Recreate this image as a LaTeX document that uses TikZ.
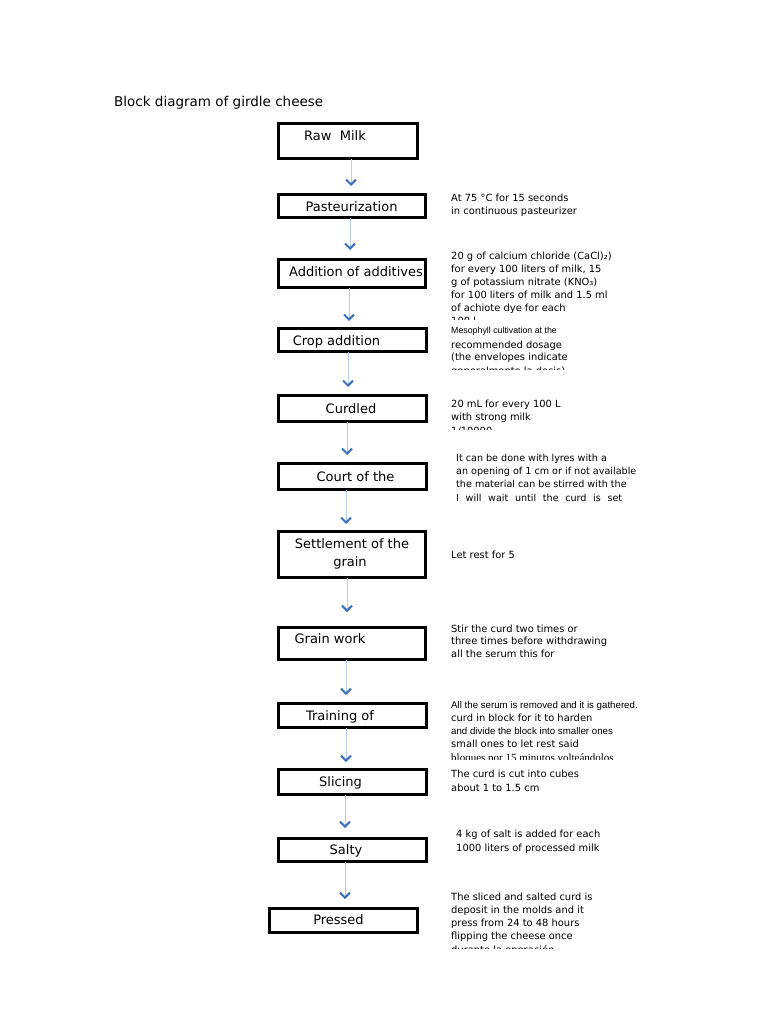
\documentclass[tikz,border=0pt]{standalone}
\usepackage{fontspec}
\setmainfont{DejaVu Sans}
\newfontfamily\arialf{Liberation Sans}
\newfontfamily\timesf{Liberation Serif}
\usetikzlibrary{arrows.meta}
\definecolor{tipblue}{RGB}{62,112,192}
\definecolor{lineblue}{RGB}{185,206,236}
\begin{document}
\begin{tikzpicture}[x=1pt,y=-1pt,
  box/.style={draw=black, line width=2.8pt, inner sep=0pt, outer sep=0pt},
  lbl/.style={anchor=mid, inner sep=0pt, yshift=-2.5pt, font=\fontsize{13}{15}\selectfont},
  note/.style={anchor=mid west, inner sep=0pt, yshift=-2pt, font=\fontsize{9.9}{12}\selectfont},
  widenote/.style={note, font=\fontsize{9.6}{12}\selectfont},
  smallnote/.style={anchor=mid west, inner sep=0pt, yshift=-2pt, font=\arialf\fontsize{9.7}{11}\selectfont},
  conn/.style={draw=lineblue, line width=0.6pt,
    -{Straight Barb[length=5pt, width=10pt, line width=2.1pt, color=tipblue]}}]
\fill[white] (0,0) rectangle (768,1024);
\useasboundingbox (0,0) rectangle (768,1024);

% title
\node[anchor=mid west, inner sep=0pt, yshift=-2.5pt, font=\fontsize{13.5}{16}\selectfont] (title) at (114,101) {Block diagram of girdle cheese};

% boxes
\node[box, minimum width=139.2, minimum height=35.2] (b1) at (348,141) {};
\node[box, minimum width=147.2, minimum height=23.2] (b2) at (352,206) {};
\node[box, minimum width=147.2, minimum height=28.2] (b3) at (352,273.5) {};
\node[box, minimum width=148.2, minimum height=23.2] (b4) at (352.5,340) {};
\node[box, minimum width=148.2, minimum height=26.2] (b5) at (352.5,408.5) {};
\node[box, minimum width=148.2, minimum height=26.2] (b6) at (352.5,476.5) {};
\node[box, minimum width=147.2, minimum height=46.2] (b7) at (352,554.5) {};
\node[box, minimum width=147.2, minimum height=32.2] (b8) at (352,643.5) {};
\node[box, minimum width=148.2, minimum height=24.2] (b9) at (352.5,715.5) {};
\node[box, minimum width=148.2, minimum height=25.2] (b10) at (352.5,782) {};
\node[box, minimum width=148.2, minimum height=23.2] (b11) at (352.5,850) {};
\node[box, minimum width=148.2, minimum height=24.2] (b12) at (343.5,920.5) {};

% labels
\node[lbl] (l1) at (335,135) {Raw\ \ Milk};
\node[lbl] (l2) at (351.5,206) {Pasteurization};
\node[lbl] (l3) at (356,271) {Addition of additives};
\node[lbl] (l4) at (336.5,340.5) {Crop addition};
\node[lbl] (l5) at (351,408) {Curdled};
\node[lbl] (l6) at (355.5,476) {Court of the};
\node[lbl] (l7a) at (352,543) {Settlement of the};
\node[lbl] (l7b) at (350,561.5) {grain};
\node[lbl] (l8) at (330,638.5) {Grain work};
\node[lbl] (l9) at (340,715) {Training of};
\node[lbl] (l10) at (340.5,781) {Slicing};
\node[lbl] (l11) at (346,849) {Salty};
\node[lbl] (l12) at (338.5,919.5) {Pressed};

% connectors
\coordinate (t1) at (351,186);
\coordinate (t2) at (350,250);
\coordinate (t3) at (349,321);
\coordinate (t4) at (348,387);
\coordinate (t5) at (347,455);
\coordinate (t6) at (346,524);
\coordinate (t7) at (347,612);
\coordinate (t8) at (346,695);
\coordinate (t9) at (346,762);
\coordinate (t10) at (345,828);
\coordinate (t11) at (345,899);
\draw[conn] (b1.south -| t1) -- (t1);
\draw[conn] (b2.south -| t2) -- (t2);
\draw[conn] (b3.south -| t3) -- (t3);
\draw[conn] (b4.south -| t4) -- (t4);
\draw[conn] (b5.south -| t5) -- (t5);
\draw[conn] (b6.south -| t6) -- (t6);
\draw[conn] (b7.south -| t7) -- (t7);
\draw[conn] (b8.south -| t8) -- (t8);
\draw[conn] (b9.south -| t9) -- (t9);
\draw[conn] (b10.south -| t10) -- (t10);
\draw[conn] (b11.south -| t11) -- (t11);

% notes
\node[note] (n1a) at (451,197) {At 75 °C for 15 seconds};
\node[note] (n1b) at (451,210) {in continuous pasteurizer};

\node[note] (n2a) at (451,255) {20 g of calcium chloride (CaCl)₂)};
\node[note] (n2b) at (451,268) {for every 100 liters of milk, 15};
\node[note] (n2c) at (451,281) {g of potassium nitrate (KNO₃)};
\node[note] (n2d) at (451,294) {for 100 liters of milk and 1.5 ml};
\node[note] (n2e) at (451,306.5) {of achiote dye for each};
\begin{scope}
\clip (440,300) rectangle (700,319);
\node[note] (n2f) at (451,320) {100 L};
\end{scope}

\node[anchor=mid west, inner sep=0pt, yshift=-1.5pt, font=\arialf\fontsize{8.8}{10}\selectfont] (n3a) at (451,329) {Mesophyll cultivation at the};
\node[note] (n3b) at (451,344) {recommended dosage};
\node[note] (n3c) at (451,356) {(the envelopes indicate};
\begin{scope}
\clip (440,360) rectangle (700,369);
\node[note] (n3d) at (451,369.5) {generalmente la dosis)};
\end{scope}

\node[note] (n4a) at (451,403) {20 mL for every 100 L};
\node[note] (n4b) at (451,416) {with strong milk};
\begin{scope}
\clip (440,420) rectangle (700,429);
\node[note] (n4c) at (451,429.5) {1/10000};
\end{scope}

\node[widenote] (n5a) at (456,457) {It can be done with lyres with a};
\node[widenote] (n5b) at (456,470) {an opening of 1 cm or if not available};
\node[widenote] (n5c) at (456,482.5) {the material can be stirred with the};
\node[widenote] (n5d) at (456,496.5) {\makebox[166pt][s]{I will wait until the curd is set}};

\node[note] (n6) at (451,554) {Let rest for 5};

\node[note] (n7a) at (451,628) {Stir the curd two times or};
\node[note] (n7b) at (451,640) {three times before withdrawing};
\node[note] (n7c) at (451,652.5) {all the serum this for};

\node[smallnote] (n8a) at (451,704) {All the serum is removed and it is gathered.};
\node[note] (n8b) at (451,717) {curd in block for it to harden};
\node[smallnote] (n8c) at (451,730) {and divide the block into smaller ones};
\node[note] (n8d) at (451,743) {small ones to let rest said};
\begin{scope}
\clip (440,748) rectangle (700,759);
\node[anchor=mid west, inner sep=0pt, yshift=-2pt, font=\timesf\fontsize{11}{12}\selectfont] (n8e) at (451,757) {bloques por 15 minutos volteándolos};
\end{scope}

\node[note] (n9a) at (451,772.5) {The curd is cut into cubes};
\node[note] (n9b) at (451,786.5) {about 1 to 1.5 cm};

\node[note] (n10a) at (456,833) {4 kg of salt is added for each};
\node[note] (n10b) at (456,847) {1000 liters of processed milk};

\node[note] (n11a) at (451,896) {The sliced and salted curd is};
\node[note] (n11b) at (451,909) {deposit in the molds and it};
\node[note] (n11c) at (451,922) {press from 24 to 48 hours};
\node[note] (n11d) at (451,935) {flipping the cheese once};
\begin{scope}
\clip (440,940) rectangle (700,948);
\node[note] (n11e) at (451,948.5) {durante la operación};
\end{scope}
\end{tikzpicture}
\end{document}
